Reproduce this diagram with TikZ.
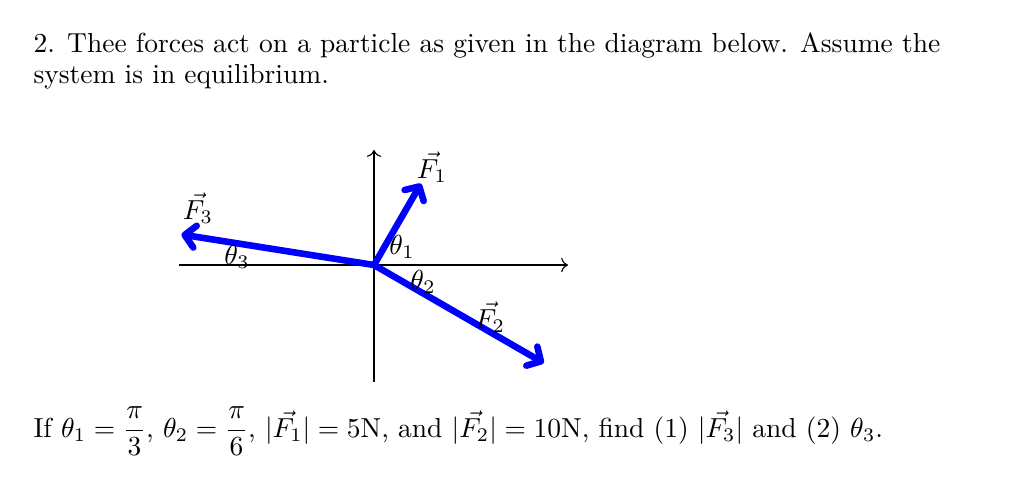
\documentclass[tikz,border=0pt]{standalone}
\usepackage{amsmath}
\usetikzlibrary{arrows.meta,calc}

\begin{document}
\begin{tikzpicture}[x=0.3636pt,y=0.3636pt,
		axis/.style={->},
		force/.style={blue,line width=2.4pt,line cap=round,line join=round,-{Straight Barb[round,length=3.8pt,width=8pt]}},
		lbl/.style={inner sep=0pt}]
				\useasboundingbox (0,0) rectangle (1024,502);
				
				\node[anchor=base west,inner sep=0pt] (question) at (33,450) {2. Thee forces act on a particle as given in the diagram below. Assume the};
				\node[anchor=base west,inner sep=0pt] (question2) at (33,419) {system is in equilibrium.};
				
				\coordinate (O) at (374,237);
				\coordinate (xl) at (179,237);
				\coordinate (xr) at (568,237);
				\coordinate (yb) at (374,120);
				\coordinate (yt) at (374,352);
				\draw[axis] (xl) -- (xr);
				\draw[axis] (yb) -- (yt);
				
				\coordinate (f1) at ($(O)+(60:94)$);
				\coordinate (f2) at ($(O)+(-30:196)$);
				\coordinate (f3) at ($(O)+(171:195)$);
				\draw[force] (O) -- (f1);
				\draw[force] (O) -- (f2);
				\draw[force] (O) -- (f3);
				
				\node[lbl] (F1) at (432,335) {$\vec{F_1}$};
				\node[lbl] (F2) at (490,185) {$\vec{F_2}$};
				\node[lbl] (F3) at (198,294) {$\vec{F_3}$};
				\node[lbl] (t1) at (402,255) {$\theta_1$};
				\node[lbl] (t2) at (423,220) {$\theta_2$};
				\node[lbl] (t3) at (237,245) {$\theta_3$};
				
				\node[anchor=base west,inner sep=0pt] (task) at (33,65) {If $\theta_1=\dfrac{\pi}{3}$, $\theta_2=\dfrac{\pi}{6}$, $|\vec{F_1}|=5$N, and $|\vec{F_2}|=10$N, find (1) $|\vec{F_3}|$ and (2) $\theta_3$.};
			\end{tikzpicture}
\end{document}
